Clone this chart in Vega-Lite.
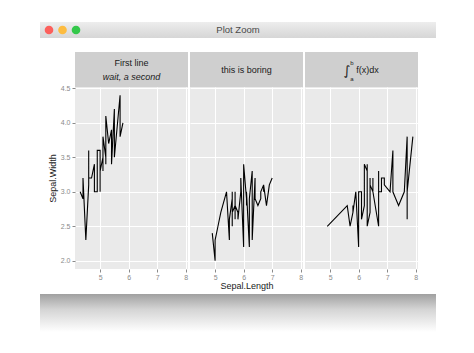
{
  "$schema": "https://vega.github.io/schema/vega-lite/v6.json",
  "background": "white",
  "padding": {"left": 39, "top": 22, "right": 0, "bottom": 0},
  "config": {
    "font": "Liberation Sans",
    "view": {"stroke": null},
    "axis": {
      "labelColor": "#8a8a8a",
      "labelFontSize": 7,
      "tickColor": "#8a8a8a",
      "tickSize": 3,
      "labelPadding": 1,
      "titleFontSize": 9,
      "titleFontWeight": "normal",
      "titleColor": "#1a1a1a",
      "domain": false,
      "gridColor": "white",
      "gridWidth": 1,
      "labelFlush": false
    }
  },
  "datasets": {
    "iris": [
      {"sp":"setosa","i":1,"len":5.1,"wid":3.5},{"sp":"setosa","i":2,"len":4.9,"wid":3.0},{"sp":"setosa","i":3,"len":4.7,"wid":3.2},{"sp":"setosa","i":4,"len":4.6,"wid":3.1},{"sp":"setosa","i":5,"len":5.0,"wid":3.6},
      {"sp":"setosa","i":6,"len":5.4,"wid":3.9},{"sp":"setosa","i":7,"len":4.6,"wid":3.4},{"sp":"setosa","i":8,"len":5.0,"wid":3.4},{"sp":"setosa","i":9,"len":4.4,"wid":2.9},{"sp":"setosa","i":10,"len":4.9,"wid":3.1},
      {"sp":"setosa","i":11,"len":5.4,"wid":3.7},{"sp":"setosa","i":12,"len":4.8,"wid":3.4},{"sp":"setosa","i":13,"len":4.8,"wid":3.0},{"sp":"setosa","i":14,"len":4.3,"wid":3.0},{"sp":"setosa","i":15,"len":5.8,"wid":4.0},
      {"sp":"setosa","i":16,"len":5.7,"wid":4.4},{"sp":"setosa","i":17,"len":5.4,"wid":3.9},{"sp":"setosa","i":18,"len":5.1,"wid":3.5},{"sp":"setosa","i":19,"len":5.7,"wid":3.8},{"sp":"setosa","i":20,"len":5.1,"wid":3.8},
      {"sp":"setosa","i":21,"len":5.4,"wid":3.4},{"sp":"setosa","i":22,"len":5.1,"wid":3.7},{"sp":"setosa","i":23,"len":4.6,"wid":3.6},{"sp":"setosa","i":24,"len":5.1,"wid":3.3},{"sp":"setosa","i":25,"len":4.8,"wid":3.4},
      {"sp":"setosa","i":26,"len":5.0,"wid":3.0},{"sp":"setosa","i":27,"len":5.0,"wid":3.4},{"sp":"setosa","i":28,"len":5.2,"wid":3.5},{"sp":"setosa","i":29,"len":5.2,"wid":3.4},{"sp":"setosa","i":30,"len":4.7,"wid":3.2},
      {"sp":"setosa","i":31,"len":4.8,"wid":3.1},{"sp":"setosa","i":32,"len":5.4,"wid":3.4},{"sp":"setosa","i":33,"len":5.2,"wid":4.1},{"sp":"setosa","i":34,"len":5.5,"wid":4.2},{"sp":"setosa","i":35,"len":4.9,"wid":3.1},
      {"sp":"setosa","i":36,"len":5.0,"wid":3.2},{"sp":"setosa","i":37,"len":5.5,"wid":3.5},{"sp":"setosa","i":38,"len":4.9,"wid":3.6},{"sp":"setosa","i":39,"len":4.4,"wid":3.0},{"sp":"setosa","i":40,"len":5.1,"wid":3.4},
      {"sp":"setosa","i":41,"len":5.0,"wid":3.5},{"sp":"setosa","i":42,"len":4.5,"wid":2.3},{"sp":"setosa","i":43,"len":4.4,"wid":3.2},{"sp":"setosa","i":44,"len":5.0,"wid":3.5},{"sp":"setosa","i":45,"len":5.1,"wid":3.8},
      {"sp":"setosa","i":46,"len":4.8,"wid":3.0},{"sp":"setosa","i":47,"len":5.1,"wid":3.8},{"sp":"setosa","i":48,"len":4.6,"wid":3.2},{"sp":"setosa","i":49,"len":5.3,"wid":3.7},{"sp":"setosa","i":50,"len":5.0,"wid":3.3},
      {"sp":"versicolor","i":51,"len":7.0,"wid":3.2},{"sp":"versicolor","i":52,"len":6.4,"wid":3.2},{"sp":"versicolor","i":53,"len":6.9,"wid":3.1},{"sp":"versicolor","i":54,"len":5.5,"wid":2.3},{"sp":"versicolor","i":55,"len":6.5,"wid":2.8},
      {"sp":"versicolor","i":56,"len":5.7,"wid":2.8},{"sp":"versicolor","i":57,"len":6.3,"wid":3.3},{"sp":"versicolor","i":58,"len":4.9,"wid":2.4},{"sp":"versicolor","i":59,"len":6.6,"wid":2.9},{"sp":"versicolor","i":60,"len":5.2,"wid":2.7},
      {"sp":"versicolor","i":61,"len":5.0,"wid":2.0},{"sp":"versicolor","i":62,"len":5.9,"wid":3.0},{"sp":"versicolor","i":63,"len":6.0,"wid":2.2},{"sp":"versicolor","i":64,"len":6.1,"wid":2.9},{"sp":"versicolor","i":65,"len":5.6,"wid":2.9},
      {"sp":"versicolor","i":66,"len":6.7,"wid":3.1},{"sp":"versicolor","i":67,"len":5.6,"wid":3.0},{"sp":"versicolor","i":68,"len":5.8,"wid":2.7},{"sp":"versicolor","i":69,"len":6.2,"wid":2.2},{"sp":"versicolor","i":70,"len":5.6,"wid":2.5},
      {"sp":"versicolor","i":71,"len":5.9,"wid":3.2},{"sp":"versicolor","i":72,"len":6.1,"wid":2.8},{"sp":"versicolor","i":73,"len":6.3,"wid":2.5},{"sp":"versicolor","i":74,"len":6.1,"wid":2.8},{"sp":"versicolor","i":75,"len":6.4,"wid":2.9},
      {"sp":"versicolor","i":76,"len":6.6,"wid":3.0},{"sp":"versicolor","i":77,"len":6.8,"wid":2.8},{"sp":"versicolor","i":78,"len":6.7,"wid":3.0},{"sp":"versicolor","i":79,"len":6.0,"wid":2.9},{"sp":"versicolor","i":80,"len":5.7,"wid":2.6},
      {"sp":"versicolor","i":81,"len":5.5,"wid":2.4},{"sp":"versicolor","i":82,"len":5.5,"wid":2.4},{"sp":"versicolor","i":83,"len":5.8,"wid":2.7},{"sp":"versicolor","i":84,"len":6.0,"wid":2.7},{"sp":"versicolor","i":85,"len":5.4,"wid":3.0},
      {"sp":"versicolor","i":86,"len":6.0,"wid":3.4},{"sp":"versicolor","i":87,"len":6.7,"wid":3.1},{"sp":"versicolor","i":88,"len":6.3,"wid":2.3},{"sp":"versicolor","i":89,"len":5.6,"wid":3.0},{"sp":"versicolor","i":90,"len":5.5,"wid":2.5},
      {"sp":"versicolor","i":91,"len":5.5,"wid":2.6},{"sp":"versicolor","i":92,"len":6.1,"wid":3.0},{"sp":"versicolor","i":93,"len":5.8,"wid":2.6},{"sp":"versicolor","i":94,"len":5.0,"wid":2.3},{"sp":"versicolor","i":95,"len":5.6,"wid":2.7},
      {"sp":"versicolor","i":96,"len":5.7,"wid":3.0},{"sp":"versicolor","i":97,"len":5.7,"wid":2.9},{"sp":"versicolor","i":98,"len":6.2,"wid":2.9},{"sp":"versicolor","i":99,"len":5.1,"wid":2.5},{"sp":"versicolor","i":100,"len":5.7,"wid":2.8},
      {"sp":"virginica","i":101,"len":6.3,"wid":3.3},{"sp":"virginica","i":102,"len":5.8,"wid":2.7},{"sp":"virginica","i":103,"len":7.1,"wid":3.0},{"sp":"virginica","i":104,"len":6.3,"wid":2.9},{"sp":"virginica","i":105,"len":6.5,"wid":3.0},
      {"sp":"virginica","i":106,"len":7.6,"wid":3.0},{"sp":"virginica","i":107,"len":4.9,"wid":2.5},{"sp":"virginica","i":108,"len":7.3,"wid":2.9},{"sp":"virginica","i":109,"len":6.7,"wid":2.5},{"sp":"virginica","i":110,"len":7.2,"wid":3.6},
      {"sp":"virginica","i":111,"len":6.5,"wid":3.2},{"sp":"virginica","i":112,"len":6.4,"wid":2.7},{"sp":"virginica","i":113,"len":6.8,"wid":3.0},{"sp":"virginica","i":114,"len":5.7,"wid":2.5},{"sp":"virginica","i":115,"len":5.8,"wid":2.8},
      {"sp":"virginica","i":116,"len":6.4,"wid":3.2},{"sp":"virginica","i":117,"len":6.5,"wid":3.0},{"sp":"virginica","i":118,"len":7.7,"wid":3.8},{"sp":"virginica","i":119,"len":7.7,"wid":2.6},{"sp":"virginica","i":120,"len":6.0,"wid":2.2},
      {"sp":"virginica","i":121,"len":6.9,"wid":3.2},{"sp":"virginica","i":122,"len":5.6,"wid":2.8},{"sp":"virginica","i":123,"len":7.7,"wid":2.8},{"sp":"virginica","i":124,"len":6.3,"wid":2.7},{"sp":"virginica","i":125,"len":6.7,"wid":3.3},
      {"sp":"virginica","i":126,"len":7.2,"wid":3.2},{"sp":"virginica","i":127,"len":6.2,"wid":2.8},{"sp":"virginica","i":128,"len":6.1,"wid":3.0},{"sp":"virginica","i":129,"len":6.4,"wid":2.8},{"sp":"virginica","i":130,"len":7.2,"wid":3.0},
      {"sp":"virginica","i":131,"len":7.4,"wid":2.8},{"sp":"virginica","i":132,"len":7.9,"wid":3.8},{"sp":"virginica","i":133,"len":6.4,"wid":2.8},{"sp":"virginica","i":134,"len":6.3,"wid":2.8},{"sp":"virginica","i":135,"len":6.1,"wid":2.6},
      {"sp":"virginica","i":136,"len":7.7,"wid":3.0},{"sp":"virginica","i":137,"len":6.3,"wid":3.4},{"sp":"virginica","i":138,"len":6.4,"wid":3.1},{"sp":"virginica","i":139,"len":6.0,"wid":3.0},{"sp":"virginica","i":140,"len":6.9,"wid":3.1},
      {"sp":"virginica","i":141,"len":6.7,"wid":3.1},{"sp":"virginica","i":142,"len":6.9,"wid":3.1},{"sp":"virginica","i":143,"len":5.8,"wid":2.7},{"sp":"virginica","i":144,"len":6.8,"wid":3.2},{"sp":"virginica","i":145,"len":6.7,"wid":3.3},
      {"sp":"virginica","i":146,"len":6.7,"wid":3.0},{"sp":"virginica","i":147,"len":6.3,"wid":2.5},{"sp":"virginica","i":148,"len":6.5,"wid":3.0},{"sp":"virginica","i":149,"len":6.2,"wid":3.4},{"sp":"virginica","i":150,"len":5.9,"wid":3.0}
    ]
  },
  "spacing": 13,
  "vconcat": [
    {
      "width": 396,
      "height": 16,
      "layer": [
        {
          "data": {"values": [{}]},
          "mark": {"type": "rect", "color": {"gradient": "linear", "x1": 0, "y1": 0, "x2": 0, "y2": 1, "stops": [{"offset": 0, "color": "#ededed"}, {"offset": 1, "color": "#d6d6d6"}]}}
        },
        {
          "data": {"values": [{"t": "Plot Zoom"}]},
          "mark": {"type": "text", "fontSize": 9.5, "color": "#4a4a4a", "font": "Liberation Sans"},
          "encoding": {"text": {"field": "t"}}
        },
        {
          "data": {"values": [{"b": "close"}, {"b": "minimize"}, {"b": "zoom"}]},
          "mark": {"type": "point", "filled": true, "size": 75, "opacity": 1},
          "encoding": {
            "x": {"field": "b", "type": "nominal", "axis": null, "scale": {"type": "point", "domain": ["close", "minimize", "zoom"], "range": [9, 36], "padding": 0}},
            "color": {"field": "b", "type": "nominal", "legend": null, "scale": {"domain": ["close", "minimize", "zoom"], "range": ["#fc605c", "#fdbc40", "#34c84a"]}}
          }
        }
      ]
    },
    {
      "spacing": 4,
      "vconcat": [
        {
          "spacing": 2,
          "hconcat": [
            {
              "width": 6,
              "height": 1,
              "data": {"values": [{}]},
              "mark": {"type": "rule", "opacity": 0},
              "encoding": {}
            },
            {
              "spacing": 0,
              "bounds": "flush",
              "vconcat": [
                {
                  "width": 113,
                  "height": 35,
                  "view": {"fill": "#cfcfcf", "stroke": null},
                  "layer": [
                    {
                      "data": {"values": [{"t": "First line"}]},
                      "mark": {"type": "text", "dy": -7, "fontSize": 9, "color": "#1a1a1a"},
                      "encoding": {"text": {"field": "t"}}
                    },
                    {
                      "data": {"values": [{"t": "wait, a second"}]},
                      "mark": {"type": "text", "dy": 7, "fontSize": 9, "fontStyle": "italic", "color": "#1a1a1a"},
                      "encoding": {"text": {"field": "t"}}
                    }
                  ]
                },
                {
                  "width": 113,
                  "height": 182,
                  "view": {"fill": "#eaeaea", "stroke": null},
                  "data": {"name": "iris"},
                  "transform": [{"filter": "datum.sp === 'setosa'"}],
                  "mark": {"type": "line", "color": "black", "strokeWidth": 1.1},
                  "encoding": {
                    "x": {"field": "len", "type": "quantitative", "scale": {"domain": [4.12, 8.08], "nice": false, "zero": false}, "axis": {"values": [5, 6, 7, 8], "title": null}},
                    "y": {"field": "wid", "type": "quantitative", "scale": {"domain": [1.88, 4.52], "nice": false, "zero": false}, "axis": {"values": [2, 2.5, 3, 3.5, 4, 4.5], "format": ".1f", "title": "Sepal.Width", "titlePadding": 3, "labelPadding": 2}},
                    "order": [{"field": "len", "type": "quantitative"}, {"field": "i", "type": "quantitative"}]
                  }
                }
              ]
            },
            {
              "spacing": 0,
              "bounds": "flush",
              "vconcat": [
                {
                  "width": 113,
                  "height": 35,
                  "view": {"fill": "#cfcfcf", "stroke": null},
                  "data": {"values": [{"t": "this is boring"}]},
                  "mark": {"type": "text", "fontSize": 9, "color": "#1a1a1a"},
                  "encoding": {"text": {"field": "t"}}
                },
                {
                  "width": 113,
                  "height": 182,
                  "view": {"fill": "#eaeaea", "stroke": null},
                  "data": {"name": "iris"},
                  "transform": [{"filter": "datum.sp === 'versicolor'"}],
                  "mark": {"type": "line", "color": "black", "strokeWidth": 1.1},
                  "encoding": {
                    "x": {"field": "len", "type": "quantitative", "scale": {"domain": [4.12, 8.08], "nice": false, "zero": false}, "axis": {"values": [5, 6, 7, 8], "title": "Sepal.Length", "titlePadding": 1}},
                    "y": {"field": "wid", "type": "quantitative", "scale": {"domain": [1.88, 4.52], "nice": false, "zero": false}, "axis": {"values": [2, 2.5, 3, 3.5, 4, 4.5], "labels": false, "ticks": false, "title": null}},
                    "order": [{"field": "len", "type": "quantitative"}, {"field": "i", "type": "quantitative"}]
                  }
                }
              ]
            },
            {
              "spacing": 0,
              "bounds": "flush",
              "vconcat": [
                {
                  "width": 113,
                  "height": 35,
                  "view": {"fill": "#cfcfcf", "stroke": null},
                  "layer": [
                    {
                      "data": {"values": [{"t": "∫"}]},
                      "mark": {"type": "text", "dx": -14.5, "dy": 1, "fontSize": 13, "color": "#1a1a1a", "font": "DejaVu Sans"},
                      "encoding": {"text": {"field": "t"}}
                    },
                    {
                      "data": {"values": [{"t": "b"}]},
                      "mark": {"type": "text", "dx": -9.5, "dy": -7, "fontSize": 6, "color": "#1a1a1a"},
                      "encoding": {"text": {"field": "t"}}
                    },
                    {
                      "data": {"values": [{"t": "a"}]},
                      "mark": {"type": "text", "dx": -9.5, "dy": 9, "fontSize": 6, "color": "#1a1a1a"},
                      "encoding": {"text": {"field": "t"}}
                    },
                    {
                      "data": {"values": [{"t": "f(x)dx"}]},
                      "mark": {"type": "text", "dx": 6, "fontSize": 9, "color": "#1a1a1a"},
                      "encoding": {"text": {"field": "t"}}
                    }
                  ]
                },
                {
                  "width": 113,
                  "height": 182,
                  "view": {"fill": "#eaeaea", "stroke": null},
                  "data": {"name": "iris"},
                  "transform": [{"filter": "datum.sp === 'virginica'"}],
                  "mark": {"type": "line", "color": "black", "strokeWidth": 1.1},
                  "encoding": {
                    "x": {"field": "len", "type": "quantitative", "scale": {"domain": [4.12, 8.08], "nice": false, "zero": false}, "axis": {"values": [5, 6, 7, 8], "title": null}},
                    "y": {"field": "wid", "type": "quantitative", "scale": {"domain": [1.88, 4.52], "nice": false, "zero": false}, "axis": {"values": [2, 2.5, 3, 3.5, 4, 4.5], "labels": false, "ticks": false, "title": null}},
                    "order": [{"field": "len", "type": "quantitative"}, {"field": "i", "type": "quantitative"}]
                  }
                }
              ]
            }
          ]
        },
        {
          "width": 396,
          "height": 38,
          "data": {"values": [{}]},
          "mark": {"type": "rect", "color": {"gradient": "linear", "x1": 0, "y1": 0, "x2": 0, "y2": 1, "stops": [{"offset": 0, "color": "#a0a0a0"}, {"offset": 0.4, "color": "#d4d4d4"}, {"offset": 1, "color": "#ffffff"}]}}
        }
      ]
    }
  ]
}
